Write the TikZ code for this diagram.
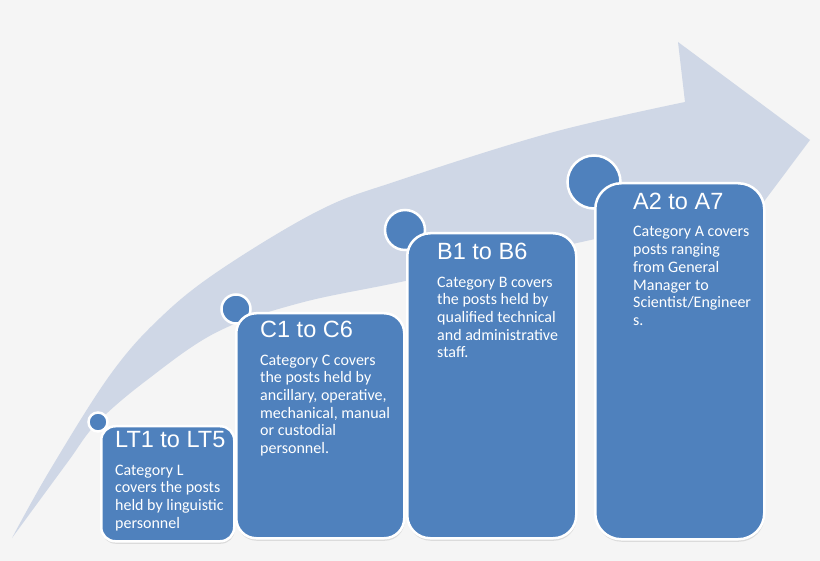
\documentclass[tikz,border=0pt]{standalone}
\usepackage{fontspec}
\setmainfont{Carlito}
\newfontfamily\titlefont{Liberation Sans}
\usetikzlibrary{shadows}
\definecolor{bgcol}{HTML}{F5F5F5}
\definecolor{bandcol}{HTML}{CFD7E6}
\definecolor{boxcol}{HTML}{4F81BD}
\tikzset{
  stepbox/.style={draw=white, line width=2.5pt, fill=boxcol, anchor=north west, inner sep=0pt,
    drop shadow={opacity=0.22, shadow xshift=0.5pt, shadow yshift=-2.5pt}},
  dot/.style={circle, draw=white, line width=2.5pt, fill=boxcol, inner sep=0pt},
  ttl/.style={anchor=base west, inner sep=0pt, text=white, font=\titlefont\fontsize{23.5}{27}\selectfont},
  body/.style={anchor=base west, inner sep=0pt, text=white, align=left,
    font=\fontsize{16}{17.7}\selectfont}
}
\begin{document}
\begin{tikzpicture}[x=1pt,y=-1pt]
\fill[bgcol] (0,0) rectangle (820,561);
\useasboundingbox (0,0) rectangle (820,561);
% curved arrow band
\fill[bandcol] plot[smooth, tension=0.6] coordinates {(12,538) (50,470) (110,375) (160,318) (220,270) (320,210) (400,180) (550,133) (685,102)}
  -- (678,42) -- (810,140) -- (712,271) -- (704,215)
  -- plot[smooth, tension=0.6] coordinates {(704,215) (577,243) (410,280) (300,303) (217,332) (147,380) (97,423) (67,463) (12,538)} -- cycle;
% circles
\node[dot, minimum size=19pt] (dl) at (98,422) {};
\node[dot, minimum size=29pt] (dc) at (236,309) {};
\node[dot, minimum size=40pt] (db) at (405,230) {};
\node[dot, minimum size=53pt] (da) at (594,182) {};
% boxes
\node[stepbox, minimum width=133pt, minimum height=115pt, rounded corners=14pt] (bl) at (100,425) {};
\node[stepbox, minimum width=168pt, minimum height=225pt, rounded corners=20pt] (bc) at (235,312) {};
\node[stepbox, minimum width=169pt, minimum height=305pt, rounded corners=23pt] (bb) at (406,232) {};
\node[stepbox, minimum width=169pt, minimum height=356pt, rounded corners=26pt] (ba) at (594,182) {};
% titles
\node[ttl] (tl) at (115,447) {LT1 to LT5};
\node[ttl] (tc) at (260,338) {C1 to C6};
\node[ttl] (tb) at (437,260) {B1 to B6};
\node[ttl] (ta) at (633,210) {A2 to A7};
% bodies (anchored at the baseline of their last line)
\node[body] (xl) at (115,528.1) {Category L\\covers the posts\\held by linguistic\\personnel};
\node[body] (xc) at (260,453.5) {Category C covers\\the posts held by\\ancillary, operative,\\mechanical, manual\\or custodial\\personnel.};
\node[body] (xb) at (437,357.8) {Category B covers\\the posts held by\\qualified technical\\and administrative\\staff.};
\node[body] (xa) at (633,325.5) {Category A covers\\posts ranging\\from General\\Manager to\\Scientist/Engineer\\s.};
\end{tikzpicture}
\end{document}
